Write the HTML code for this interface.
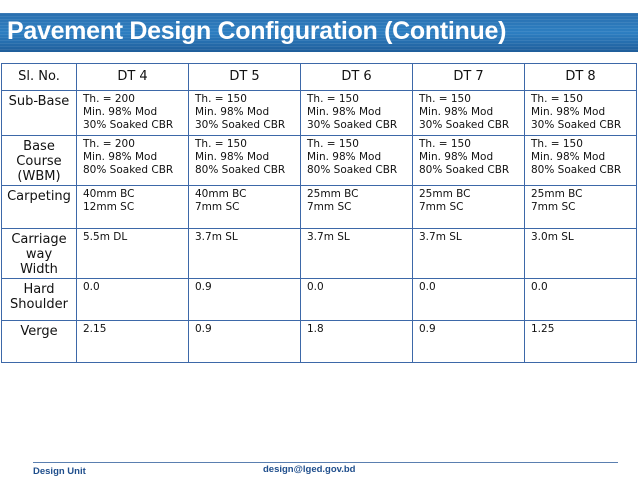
<!DOCTYPE html>
<html><head><meta charset="utf-8">
<style>
body{margin:0;width:638px;height:478px;background:#fff;position:relative;overflow:hidden;font-family:"DejaVu Sans","Liberation Sans",sans-serif;}
#title{position:absolute;left:0;top:13px;width:638px;height:39px;
background:repeating-linear-gradient(180deg,rgba(255,255,255,0.08) 0 1px,rgba(0,0,0,0) 1px 3px),linear-gradient(180deg,#2a6fae,#2d7fc2 50%,#1f5d9a);}
#title span{position:absolute;left:7px;top:4px;color:#fff;font-family:"Liberation Sans",sans-serif;font-weight:bold;font-size:25px;letter-spacing:-0.3px;}
.c{position:absolute;box-sizing:border-box;border-right:1.5px solid #3d68a8;border-bottom:1.5px solid #3d68a8;font-size:10.5px;color:#111;line-height:13px;padding:2px 0 0 6px;}
.l{text-align:center;font-size:13px;line-height:15px;padding:3px 0 0 0;}
.h{text-align:center;font-size:13px;padding-top:6px;padding-left:0;}
#foot{position:absolute;left:33px;top:462px;width:585px;height:0;border-top:1px solid #5a7fb0;}
.ft{position:absolute;top:465px;font-family:"Liberation Sans",sans-serif;font-weight:bold;font-size:9.5px;color:#1f4e8c;}
</style></head><body>
<div id="title"><span>Pavement Design Configuration (Continue)</span></div>
<div id="tbl" style="position:absolute;left:1px;top:63px;width:636px;height:300px;border-top:1.5px solid #3d68a8;border-left:1.5px solid #3d68a8;box-sizing:border-box"></div>
<script>
var cols=[0,75,187,299,411,523,635];
var rows=[0,27,72,122,165,215,257,299];
var heads=["Sl. No.","DT 4","DT 5","DT 6","DT 7","DT 8"];
var labels=["Sub-Base","Base<br>Course<br>(WBM)","Carpeting","Carriage<br>way<br>Width","Hard<br>Shoulder","Verge"];
var sb30="Min. 98% Mod<br>30% Soaked CBR", sb80="Min. 98% Mod<br>80% Soaked CBR";
var data=[
["Th. = 200<br>"+sb30,"Th. = 150<br>"+sb30,"Th. = 150<br>"+sb30,"Th. = 150<br>"+sb30,"Th. = 150<br>"+sb30],
["Th. = 200<br>"+sb80,"Th. = 150<br>"+sb80,"Th. = 150<br>"+sb80,"Th. = 150<br>"+sb80,"Th. = 150<br>"+sb80],
["40mm BC<br>12mm SC","40mm BC<br>7mm SC","25mm BC<br>7mm SC","25mm BC<br>7mm SC","25mm BC<br>7mm SC"],
["5.5m DL","3.7m SL","3.7m SL","3.7m SL","3.0m SL"],
["0.0","0.9","0.0","0.0","0.0"],
["2.15","0.9","1.8","0.9","1.25"]];
var t=document.getElementById('tbl');
function cell(r,c,html,cls,name){var d=document.createElement('div');d.className='c '+cls;
d.style.left=cols[c]+'px';d.style.top=rows[r]+'px';d.style.width=(cols[c+1]-cols[c])+'px';d.style.height=(rows[r+1]-rows[r])+'px';
d.innerHTML=html;


t.appendChild(d);}
heads.forEach(function(h,i){cell(0,i,h,'h','header-cell');});
labels.forEach(function(l,i){cell(i+1,0,l,'l','row-label');data[i].forEach(function(v,j){cell(i+1,j+1,v,'','data-cell');});});
</script>
<div id="foot"></div>
<div class="ft" style="left:33px;top:466px">Design Unit</div>
<div class="ft" style="left:263px;top:464px">design@lged.gov.bd</div>
</body></html>
